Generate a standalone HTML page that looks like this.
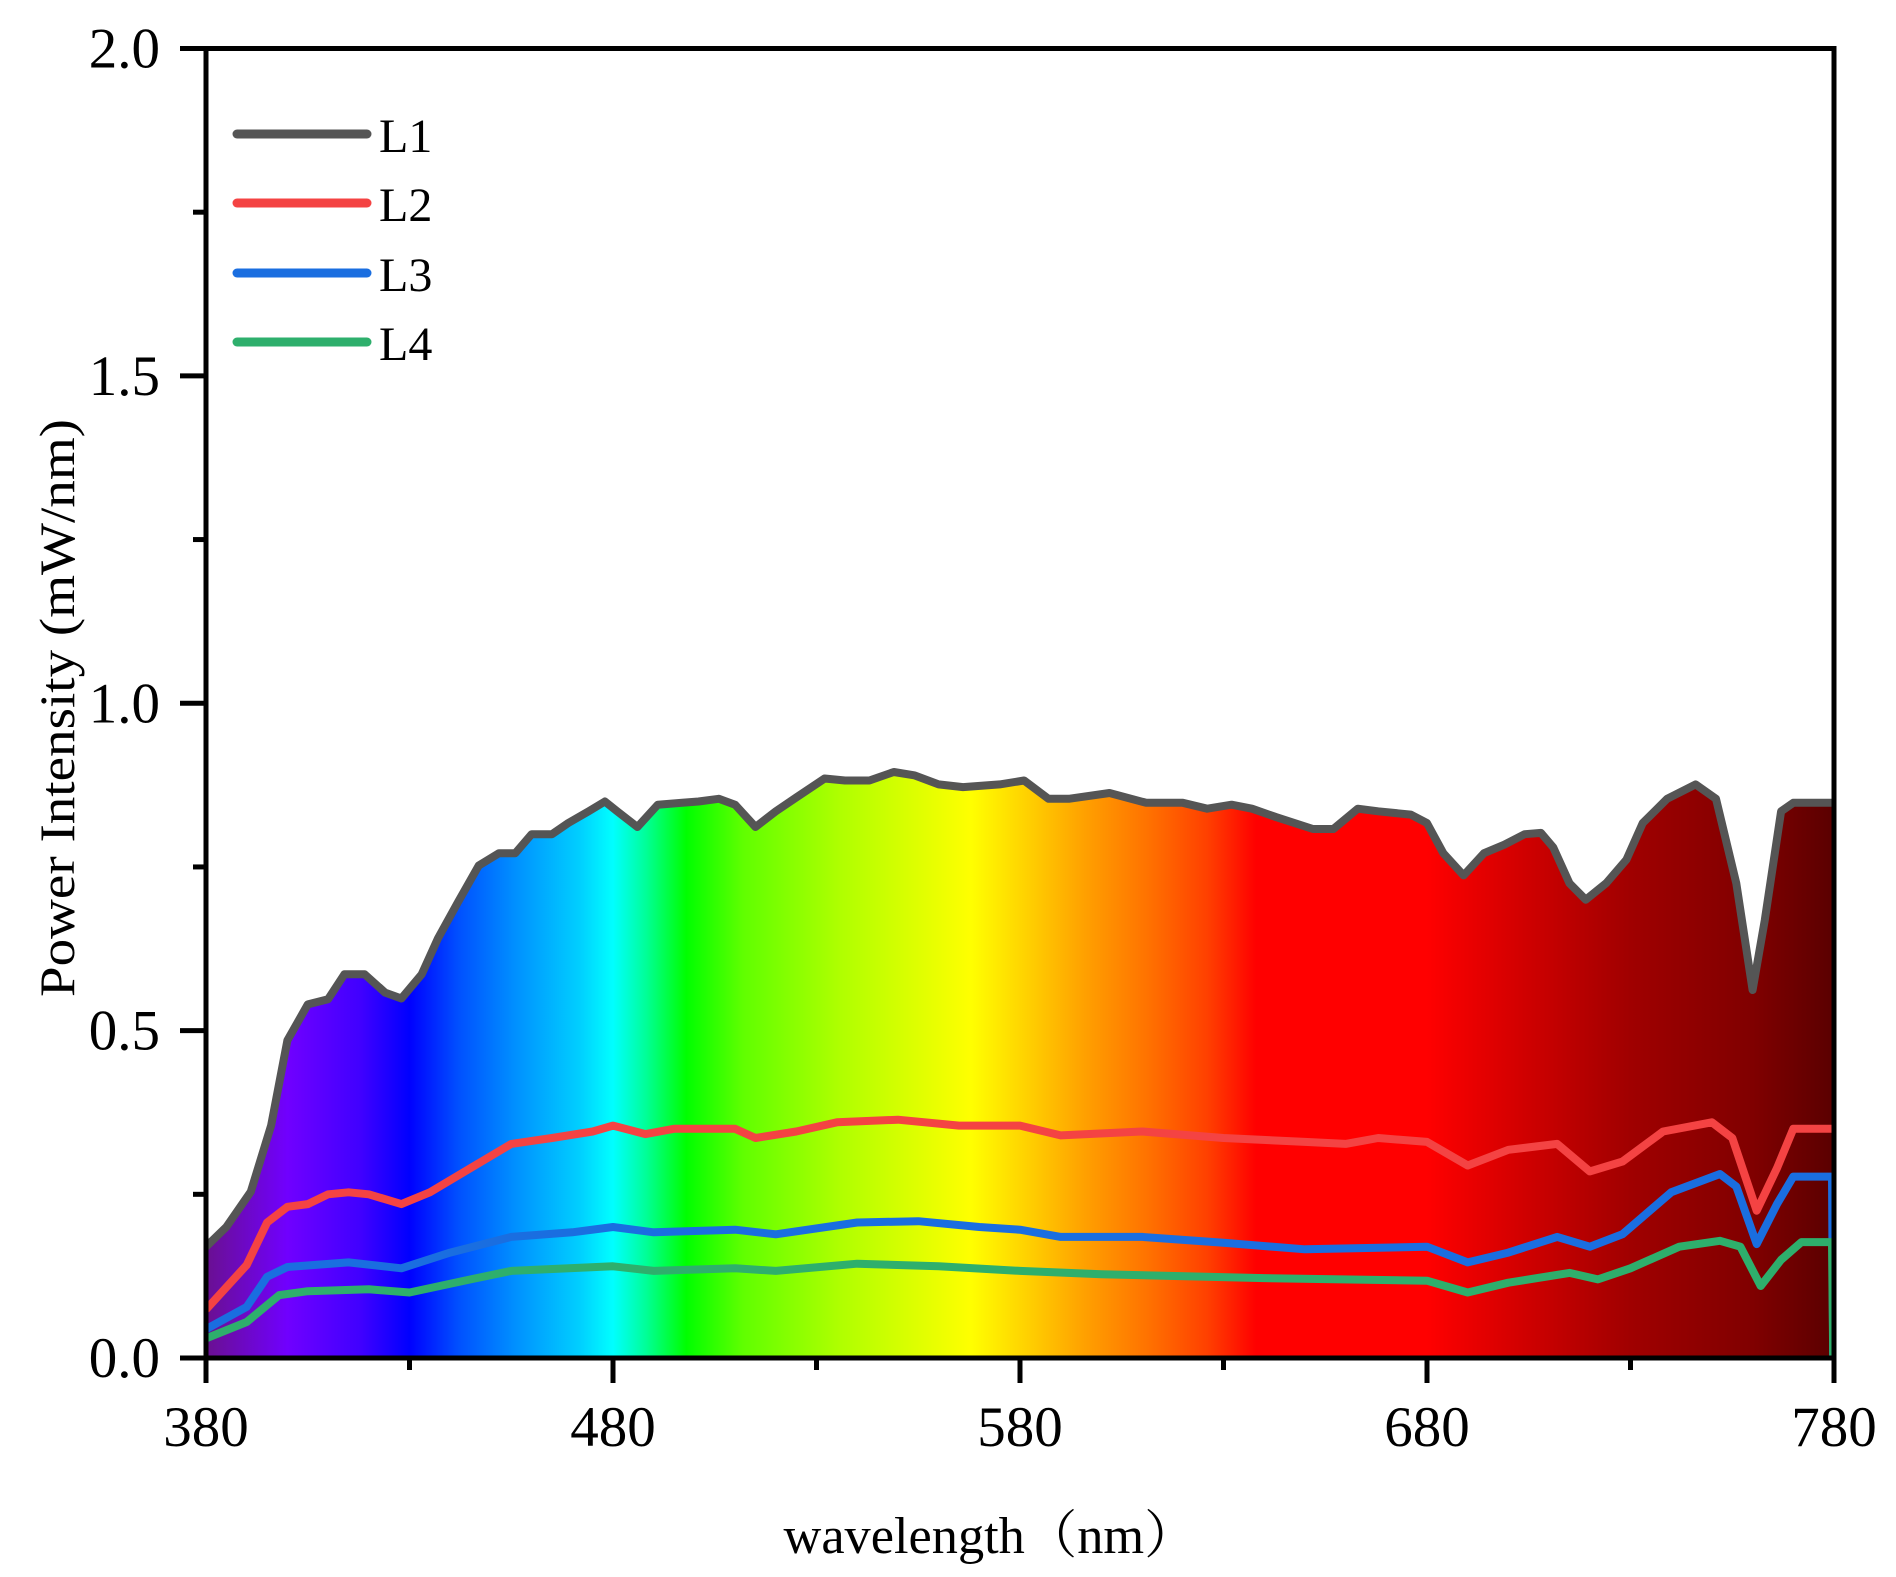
<!DOCTYPE html>
<html><head><meta charset="utf-8"><style>html,body{margin:0;padding:0;background:#fff}svg{display:block}text{font-family:"Liberation Serif","Noto Serif CJK SC",serif}</style></head>
<body>
<svg id="s" xmlns="http://www.w3.org/2000/svg" width="1896" height="1577" viewBox="0 0 1896 1577">
<defs>
<linearGradient id="g" x1="206" x2="1834" y1="0" y2="0" gradientUnits="userSpaceOnUse">
<stop offset="0" stop-color="#6a1090"/>
<stop offset="0.05" stop-color="#7000ff"/>
<stop offset="0.095" stop-color="#4000ff"/>
<stop offset="0.125" stop-color="#0000ff"/>
<stop offset="0.155" stop-color="#0050ff"/>
<stop offset="0.19" stop-color="#0090ff"/>
<stop offset="0.23" stop-color="#00d0ff"/>
<stop offset="0.25" stop-color="#00ffff"/>
<stop offset="0.27" stop-color="#00ff99"/>
<stop offset="0.295" stop-color="#00ff00"/>
<stop offset="0.33" stop-color="#60ff00"/>
<stop offset="0.39" stop-color="#b0ff00"/>
<stop offset="0.47" stop-color="#ffff00"/>
<stop offset="0.505" stop-color="#ffd000"/>
<stop offset="0.54" stop-color="#ffa000"/>
<stop offset="0.58" stop-color="#ff7000"/>
<stop offset="0.615" stop-color="#ff4000"/>
<stop offset="0.645" stop-color="#ff0000"/>
<stop offset="0.75" stop-color="#ff0000"/>
<stop offset="0.81" stop-color="#d00000"/>
<stop offset="0.875" stop-color="#a00000"/>
<stop offset="0.95" stop-color="#800000"/>
<stop offset="1" stop-color="#5a0000"/>
</linearGradient>
<clipPath id="c"><rect x="206" y="48" width="1628" height="1310"/></clipPath>
</defs>
<g id="plot" clip-path="url(#c)"></g>
<g stroke="#000" stroke-width="5" fill="none">
<rect x="206" y="48.5" width="1628" height="1309.5"/>
</g>
<g id="ticks" stroke="#000" stroke-width="5"></g>
<g id="labels" font-size="57" fill="#000"></g>
<g stroke-width="9" stroke-linecap="round">
<line x1="237" y1="134" x2="367" y2="134" stroke="#555555"/>
<line x1="237" y1="203" x2="367" y2="203" stroke="#f44343"/>
<line x1="237" y1="273" x2="367" y2="273" stroke="#1a6ee0"/>
<line x1="237" y1="342" x2="367" y2="342" stroke="#2eaf6c"/>
</g>
<g font-size="48" fill="#000">
<text x="379" y="152">L1</text>
<text x="379" y="221">L2</text>
<text x="379" y="291">L3</text>
<text x="379" y="360">L4</text>
</g>
<text transform="translate(74,708) rotate(-90)" text-anchor="middle" font-size="50" textLength="578" lengthAdjust="spacingAndGlyphs">Power Intensity (mW/nm)</text>
<text x="990" y="1553" text-anchor="middle" font-size="52" textLength="413" lengthAdjust="spacingAndGlyphs">wavelength（nm）</text>
</svg>
<script>
var NS="http://www.w3.org/2000/svg";
function X(l){return 206+(l-380)*4.07;}
function Y(v){return 1358-v*654.75;}
var L1=[[380,0.17],[385,0.2],[391,0.254],[396,0.355],[400,0.485],[405,0.54],[410,0.548],[414,0.586],[419,0.586],[424,0.558],[428,0.549],[433,0.586],[437,0.641],[442,0.697],[447,0.752],[452,0.771],[456,0.771],[460,0.8],[465,0.8],[469,0.817],[474,0.835],[478,0.85],[481,0.835],[486,0.811],[491,0.845],[497,0.848],[501,0.85],[506,0.854],[510,0.845],[515,0.811],[520,0.835],[525,0.856],[532,0.885],[537,0.882],[543,0.882],[549,0.895],[554,0.89],[560,0.876],[566,0.872],[575,0.876],[581,0.882],[587,0.854],[592,0.854],[602,0.863],[611,0.848],[620,0.848],[626,0.839],[632,0.845],[637,0.839],[643,0.826],[652,0.808],[657,0.808],[663,0.839],[668,0.835],[676,0.83],[680,0.817],[684,0.771],[689,0.737],[694,0.771],[699,0.784],[704,0.8],[708,0.802],[711,0.78],[715,0.725],[719,0.7],[724,0.725],[729,0.761],[733,0.817],[739,0.854],[746,0.876],[751,0.854],[756,0.725],[760,0.562],[763,0.669],[767,0.835],[770,0.848],[779.5,0.848]];
var L2=[[380,0.074],[390,0.142],[395,0.207],[400,0.231],[405,0.235],[410,0.25],[415,0.253],[420,0.25],[428,0.235],[435,0.253],[445,0.29],[455,0.327],[465,0.336],[475,0.346],[480,0.355],[488,0.342],[495,0.35],[510,0.35],[515,0.336],[525,0.346],[535,0.36],[550,0.364],[565,0.355],[580,0.355],[590,0.34],[610,0.346],[630,0.336],[650,0.33],[660,0.327],[668,0.336],[680,0.33],[690,0.294],[700,0.318],[712,0.327],[720,0.285],[728,0.3],[738,0.346],[750,0.36],[755,0.336],[761,0.225],[766,0.29],[770,0.35],[779.5,0.35]];
var L3=[[380,0.044],[390,0.078],[395,0.124],[400,0.139],[415,0.146],[428,0.137],[440,0.161],[455,0.185],[470,0.192],[480,0.2],[490,0.192],[510,0.196],[520,0.189],[540,0.207],[555,0.209],[570,0.2],[580,0.196],[590,0.185],[610,0.185],[630,0.176],[650,0.166],[680,0.17],[690,0.146],[700,0.161],[712,0.185],[720,0.17],[728,0.189],[740,0.253],[752,0.281],[756,0.262],[761,0.174],[766,0.235],[770,0.277],[779.5,0.277],[779.8,0]];
var L4=[[380,0.03],[390,0.055],[398,0.096],[405,0.102],[420,0.105],[430,0.1],[445,0.12],[455,0.133],[480,0.14],[490,0.133],[510,0.137],[520,0.133],[540,0.144],[560,0.14],[580,0.133],[600,0.128],[640,0.122],[680,0.118],[690,0.1],[700,0.115],[715,0.13],[722,0.12],[730,0.137],[742,0.17],[752,0.179],[757,0.17],[762,0.11],[767,0.15],[772,0.177],[779.5,0.177],[779.8,0]];
function pts(a){return a.map(function(p){return X(p[0]).toFixed(1)+","+Y(p[1]).toFixed(1);}).join(" ");}
var g=document.getElementById("plot");
function el(t,at){var e=document.createElementNS(NS,t);for(var k in at)e.setAttribute(k,at[k]);return e;}
g.appendChild(el("polygon",{points:X(380)+","+Y(0)+" "+pts(L1)+" "+X(780)+","+Y(0),fill:"url(#g)"}));
[[L1,"#555555"],[L2,"#f44343"],[L3,"#1a6ee0"],[L4,"#2eaf6c"]].forEach(function(s){
g.appendChild(el("polyline",{points:pts(s[0]),fill:"none",stroke:s[1],"stroke-width":8,"stroke-linejoin":"round"}));});
var t=document.getElementById("ticks"),lb=document.getElementById("labels");
for(var l=380;l<=780;l+=50){var maj=((l-380)%100==0);var x=X(l);
t.appendChild(el("line",{x1:x,y1:1358,x2:x,y2:1358+(maj?25:12)}));
if(maj){var tx=el("text",{x:x,y:1446,"text-anchor":"middle"});tx.textContent=String(l);lb.appendChild(tx);}}
for(var i=0;i<=8;i++){var v=i*0.25;var y=Y(v);var maj=(i%2==0);
t.appendChild(el("line",{x1:206,y1:y,x2:206-(maj?26:13),y2:y}));
if(maj){var ty=el("text",{x:160,y:y+19,"text-anchor":"end"});ty.textContent=v.toFixed(1);lb.appendChild(ty);}}
</script>
</body></html>
